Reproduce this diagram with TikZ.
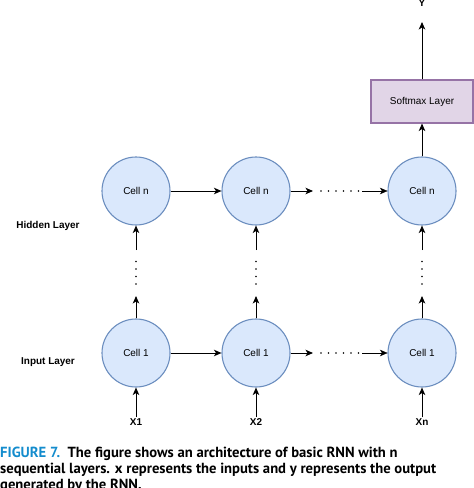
\documentclass[tikz,border=0pt]{standalone}
\usepackage{fontspec}
\setmainfont{Liberation Sans}
\newfontfamily\capfont{PT Sans}
\usetikzlibrary{arrows.meta,positioning}
\definecolor{CeldaAzul}{HTML}{DAE8FC}
\definecolor{CeldaBorde}{HTML}{6C8EBF}
\definecolor{SoftLila}{HTML}{E1D5E7}
\definecolor{SoftBorde}{HTML}{9673A6}
\definecolor{CapAzul}{RGB}{20,140,205}
\tikzset{
  cellnode/.style={circle, draw=CeldaBorde, line width=1.1pt, fill=CeldaAzul,
    minimum size=68bp, inner sep=0pt, font=\fontsize{10}{12}\selectfont},
  softbox/.style={draw=SoftBorde, line width=1.1pt, fill=SoftLila,
    minimum width=102bp, minimum height=43bp, inner sep=0pt, font=\fontsize{10}{12}\selectfont},
  flowarr/.style={-{Stealth[length=7.5bp, width=6.5bp, inset=2bp]}, line width=1pt},
  thinarr/.style={-{Stealth[length=7.5bp, width=6.5bp, inset=2bp]}, line width=0.5pt},
  dotline/.style={line width=1.7pt, line cap=round, dash pattern=on 0pt off 7.5bp},
  layerlabel/.style={font=\bfseries\fontsize{10}{12}\selectfont, inner sep=1pt},
}

\begin{document}
\begin{tikzpicture}[x=1bp, y=-1bp]
  \useasboundingbox (0,0) rectangle (474,488);
  % ---- capas ----
  \node[layerlabel] (hidden) at (48,226) {Hidden Layer};
  \node[layerlabel] (input) at (48,362) {Input Layer};
  \node[cellnode] (cn1) at (136,191) {Cell n};
  \node[cellnode] (cn2) at (256,191) {Cell n};
  \node[cellnode] (cn3) at (422,191) {Cell n};
  \node[cellnode] (c11) at (136,353) {Cell 1};
  \node[cellnode] (c12) at (256,353) {Cell 1};
  \node[cellnode] (c13) at (422,353) {Cell 1};
  \node[softbox] (soft) at (422,101.5) {Softmax Layer};
  \node[layerlabel] (y) at (422,3.5) {Y};
  \node[layerlabel] (x1) at (136,422) {X1};
  \node[layerlabel] (x2) at (256,422) {X2};
  \node[layerlabel] (xn) at (422,422) {Xn};
  % ---- entradas ----
  \draw[flowarr] (x1) -- (c11);
  \draw[flowarr] (x2) -- (c12);
  \draw[flowarr] (xn) -- (c13);
  % ---- entre capas ----
  \foreach \c/\x in {1/136, 2/256, 3/422} {
    \coordinate (lo\c) at (\x,296);
    \coordinate (da\c) at (\x,284);
    \coordinate (db\c) at (\x,255);
    \coordinate (up\c) at (\x,250);
    \draw[flowarr] (c1\c) -- (lo\c);
    \draw[dotline] (da\c) -- (db\c);
    \draw[flowarr] (up\c) -- (cn\c);
  }
  % ---- recurrencia ----
  \foreach \r/\ry in {1/353, n/191} {
    \coordinate (ha\r) at (313,\ry);
    \coordinate (hb\r) at (321,\ry);
    \coordinate (hc\r) at (362,\ry);
  }
  \draw[flowarr] (c11) -- (c12);
  \draw[flowarr] (c12) -- (ha1);
  \draw[dotline] (hb1) -- (hc1);
  \draw[thinarr] (hc1) -- (c13);
  \draw[flowarr] (cn1) -- (cn2);
  \draw[flowarr] (cn2) -- (han);
  \draw[dotline] (hbn) -- (hcn);
  \draw[thinarr] (hcn) -- (cn3);
  % ---- salida ----
  \coordinate (ytip) at (422,22);
  \draw[flowarr] (cn3) -- (soft);
  \draw[flowarr] (soft) -- (ytip);
  % ---- pie ----
  \node[anchor=north west, inner sep=0pt, align=left,
    font=\capfont\bfseries\fontsize{14.7}{16}\selectfont] (pie) at (0,447)
    {\textcolor{CapAzul}{FIGURE 7.}\ \ The figure shows an architecture of basic RNN with n\\
     sequential layers. x represents the inputs and y represents the output\\
     generated by the RNN.};
\end{tikzpicture}
\end{document}
